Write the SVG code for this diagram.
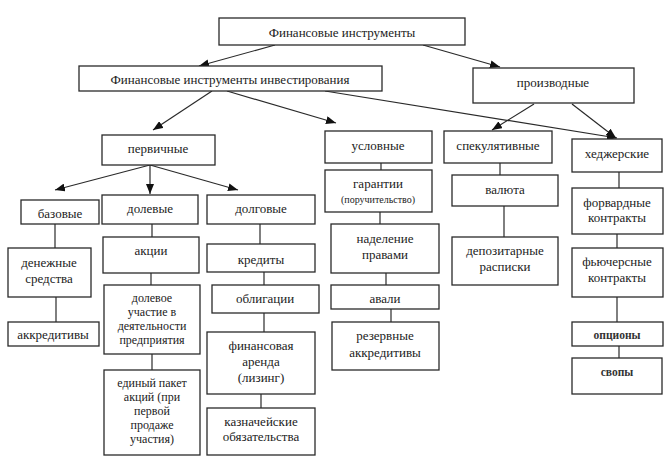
<svg xmlns="http://www.w3.org/2000/svg" width="670" height="461" viewBox="0 0 670 461">
<style>
.b{fill:#fff;stroke:#2a2a2a;stroke-width:1.3}
.t{font-family:"Liberation Serif","DejaVu Serif",serif;font-size:13px;fill:#222;text-anchor:middle;dominant-baseline:central}
.s{font-size:10px}
.m{font-size:12px}
.k{font-size:11.5px;font-weight:bold;fill:#333}
.c line{stroke:#2a2a2a;stroke-width:1.2}
.a{marker-end:url(#ah)}
</style>
<defs>
<marker id="ah" markerUnits="userSpaceOnUse" markerWidth="10" markerHeight="8" refX="10" refY="4" orient="auto" viewBox="0 0 10 8">
<path d="M0,0 L10,4 L0,8 z" fill="#111"/>
</marker>
</defs>
<rect width="670" height="461" fill="#fff"/>
<g class="c">
<line class="a" x1="275" y1="45" x2="199" y2="66"/>
<line class="a" x1="423" y1="45" x2="500" y2="67"/>
<line class="a" x1="212" y1="91" x2="153" y2="130"/>
<line class="a" x1="227" y1="91" x2="336" y2="123"/>
<line class="a" x1="325" y1="91" x2="617" y2="138"/>
<line class="a" x1="534" y1="104" x2="492" y2="130"/>
<line class="a" x1="572" y1="104" x2="616" y2="138"/>
<line class="a" x1="150" y1="165" x2="55" y2="190"/>
<line class="a" x1="150" y1="165" x2="150" y2="194"/>
<line class="a" x1="150" y1="165" x2="238" y2="190"/>
<line x1="55" y1="224" x2="55" y2="248"/>
<line x1="56" y1="297" x2="56" y2="322"/>
<line x1="152" y1="224" x2="152" y2="237"/>
<line x1="151" y1="273" x2="151" y2="285"/>
<line x1="152" y1="354" x2="152" y2="370"/>
<line x1="260" y1="224" x2="260" y2="244"/>
<line x1="264" y1="272" x2="264" y2="285"/>
<line x1="264" y1="313" x2="264" y2="332"/>
<line x1="261" y1="394" x2="261" y2="408"/>
<line x1="381" y1="163" x2="381" y2="170"/>
<line x1="380" y1="212" x2="380" y2="224"/>
<line x1="386" y1="273" x2="386" y2="285"/>
<line x1="391" y1="309" x2="391" y2="322"/>
<line x1="500" y1="163" x2="500" y2="175"/>
<line x1="504" y1="206" x2="504" y2="237"/>
<line x1="619" y1="172" x2="619" y2="188"/>
<line x1="617" y1="234" x2="617" y2="248"/>
<line x1="617" y1="297" x2="617" y2="322"/>
<line x1="619" y1="346" x2="619" y2="358"/>
</g>
<g id="fi"><rect class="b" x="219" y="18" width="246" height="27"/><text class="t" x="342" y="32">Финансовые инструменты</text></g>
<g id="fii"><rect class="b" x="79" y="66" width="303" height="25"/><text class="t" x="230" y="79">Финансовые инструменты инвестирования</text></g>
<g id="proizv"><rect class="b" x="473" y="68" width="161" height="35"/><text class="t" x="553" y="82">производные</text></g>
<g id="perv"><rect class="b" x="102" y="135" width="113" height="30"/><text class="t" x="158" y="148">первичные</text></g>
<g id="usl"><rect class="b" x="325" y="131" width="107" height="32"/><text class="t" x="378" y="145">условные</text></g>
<g id="spek"><rect class="b" x="444" y="131" width="108" height="32"/><text class="t" x="498" y="145">спекулятивные</text></g>
<g id="hedzh"><rect class="b" x="572" y="139" width="90" height="33"/><text class="t" x="617" y="153">хеджерские</text></g>
<g id="baz"><rect class="b" x="21" y="200" width="78" height="24"/><text class="t" x="60" y="213">базовые</text></g>
<g id="dol"><rect class="b" x="102" y="195" width="96" height="29"/><text class="t" x="150" y="208">долевые</text></g>
<g id="dolg"><rect class="b" x="207" y="195" width="108" height="29"/><text class="t" x="261" y="208">долговые</text></g>
<g id="gar"><rect class="b" x="325" y="170" width="107" height="42"/><text class="t" x="378" y="183">гарантии</text><text class="t s" x="378" y="199">(поручительство)</text></g>
<g id="val"><rect class="b" x="452" y="175" width="106" height="31"/><text class="t" x="505" y="189">валюта</text></g>
<g id="forw"><rect class="b" x="572" y="188" width="91" height="46"/><text class="t" x="617" y="202">форвардные</text><text class="t" x="617" y="217">контракты</text></g>
<g id="den"><rect class="b" x="8" y="248" width="83" height="49"/><text class="t" x="49" y="262">денежные</text><text class="t" x="49" y="278">средства</text></g>
<g id="akc"><rect class="b" x="103" y="237" width="96" height="36"/><text class="t" x="151" y="250">акции</text></g>
<g id="kred"><rect class="b" x="207" y="244" width="108" height="28"/><text class="t" x="261" y="259">кредиты</text></g>
<g id="nadel"><rect class="b" x="331" y="224" width="108" height="49"/><text class="t" x="385" y="238">наделение</text><text class="t" x="385" y="254">правами</text></g>
<g id="depoz"><rect class="b" x="452" y="237" width="106" height="48"/><text class="t" x="505" y="250">депозитарные</text><text class="t" x="505" y="266">расписки</text></g>
<g id="fut"><rect class="b" x="572" y="248" width="91" height="49"/><text class="t" x="617" y="261">фьючерсные</text><text class="t" x="617" y="277">контракты</text></g>
<g id="obl"><rect class="b" x="212" y="285" width="107" height="28"/><text class="t" x="265" y="298">облигации</text></g>
<g id="aval"><rect class="b" x="331" y="285" width="108" height="24"/><text class="t" x="385" y="298">авали</text></g>
<g id="dolu"><rect class="b" x="104" y="285" width="96" height="69"/><text class="t m" x="152" y="298">долевое</text><text class="t m" x="152" y="312">участие в</text><text class="t m" x="152" y="326">деятельности</text><text class="t m" x="152" y="340">предприятия</text></g>
<g id="akkr"><rect class="b" x="8" y="322" width="91" height="24"/><text class="t" x="53" y="334">аккредитивы</text></g>
<g id="lizing"><rect class="b" x="207" y="332" width="108" height="62"/><text class="t" x="261" y="345">финансовая</text><text class="t" x="261" y="361">аренда</text><text class="t" x="261" y="377">(лизинг)</text></g>
<g id="rez"><rect class="b" x="332" y="322" width="107" height="48"/><text class="t" x="385" y="335">резервные</text><text class="t" x="385" y="352">аккредитивы</text></g>
<g id="opc"><rect class="b" x="572" y="322" width="91" height="24"/><text class="t k" x="617" y="335">опционы</text></g>
<g id="svop"><rect class="b" x="572" y="358" width="90" height="36"/><text class="t k" x="617" y="372">свопы</text></g>
<g id="paket"><rect class="b" x="104" y="370" width="96" height="85"/><text class="t m" x="152" y="383">единый пакет</text><text class="t m" x="152" y="397">акций (при</text><text class="t m" x="152" y="411">первой</text><text class="t m" x="152" y="425">продаже</text><text class="t m" x="152" y="439">участия)</text></g>
<g id="kazn"><rect class="b" x="207" y="408" width="108" height="47"/><text class="t" x="261" y="421">казначейские</text><text class="t" x="261" y="436">обязательства</text></g>
</svg>
